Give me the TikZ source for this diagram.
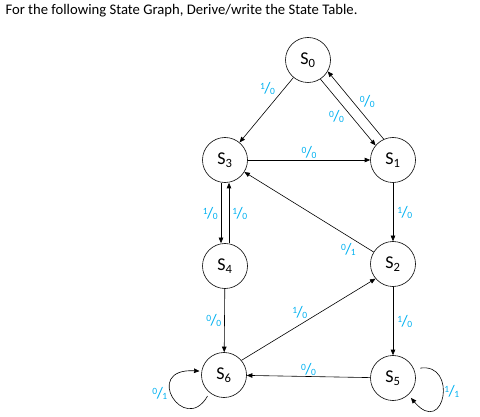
\documentclass[tikz,border=0pt]{standalone}
\usepackage{fontspec}
\setmainfont{Carlito}
\usepackage{xcolor}
\usetikzlibrary{arrows.meta, positioning}
\definecolor{wordblue}{HTML}{00B0F0}
\newcommand{\io}[2]{\raisebox{0.4em}{\fontsize{9.5}{9.5}\selectfont#1}\kern-0.05em{\fontsize{16}{16}\selectfont/}\kern-0.05em\raisebox{-0.1em}{\fontsize{9.5}{9.5}\selectfont#2}}

\begin{document}
\begin{tikzpicture}[
    x=1pt, y=-1pt,
    state/.style={draw, circle, line width=0.6pt, minimum size=45pt, inner sep=0pt, font=\fontsize{18}{20}\selectfont},
    arrow/.style={-{Triangle[length=5.5pt, width=4.5pt]}, line width=0.6pt},
    lbl/.style={text=wordblue, inner sep=1pt},
]
    \useasboundingbox (0,0) rectangle (480,417);
    \node[anchor=base west, font=\fontsize{14.67}{16}\selectfont] (title) at (2,15) {For the following State Graph, Derive/write the State Table.};

    \node[state] (s0) at (308,60) {S\textsubscript{0}};
    \node[state] (s3) at (225,160) {S\textsubscript{3}};
    \node[state] (s1) at (393,160) {S\textsubscript{1}};
    \node[state] (s4) at (225,266) {S\textsubscript{4}};
    \node[state] (s2) at (393,264) {S\textsubscript{2}};
    \node[state] (s6) at (224,375) {S\textsubscript{6}};
    \node[state] (s5) at (393,378) {S\textsubscript{5}};

    \draw[arrow] (s0) -- node[lbl, pos=0.3, above left=1pt and 1pt] {\io{1}{0}} (s3);
    \draw[arrow] (s0.-57) -- node[lbl, pos=0.45, below left=0pt and 0pt] {\io{0}{0}} (s1.140);
    \draw[arrow] (s1.114) -- node[lbl, pos=0.45, above right=0pt and 0pt] {\io{0}{0}} (s0.-30);
    \draw[arrow] (s3) -- node[lbl, above] {\io{0}{0}} (s1);
    \draw[arrow] (s1) -- node[lbl, right=3pt] {\io{1}{0}} (s2);
    \draw[arrow] (s2) -- node[lbl, pos=0.12, below left=0pt and 1pt] {\io{0}{1}} (s3);
    \draw[arrow] ([xshift=-4pt]s3.south) -- node[lbl, left=2pt] {\io{1}{0}} ([xshift=-4pt]s4.north);
    \draw[arrow] ([xshift=4pt]s4.north) -- node[lbl, right=2pt] {\io{1}{0}} ([xshift=4pt]s3.south);
    \draw[arrow] (s4) -- node[lbl, left=2pt] {\io{0}{0}} (s6);
    \draw[arrow] (s6.40) -- node[lbl, above left=0pt and 0pt] {\io{1}{0}} (s2.-140);
    \draw[arrow] (s2) -- node[lbl, right=3pt] {\io{1}{0}} (s5);
    \draw[arrow] (s5) -- node[lbl, above] {\io{0}{0}} (s6);
    \draw[arrow] ([shift={(-128:4pt)}]s6.-128) .. controls +(-23,40) and +(-58,-3) .. node[lbl, pos=0.55, left=3pt] {\io{0}{1}} ([xshift=-2pt]s6.170);
    \draw[arrow] ([shift={(20:6pt)}]s5.20) .. controls +(38,-6) and +(34,40) .. node[lbl, pos=0.45, right=0pt] {\io{1}{1}} ([shift={(-48:4pt)}]s5.-48);
\end{tikzpicture}
\end{document}
